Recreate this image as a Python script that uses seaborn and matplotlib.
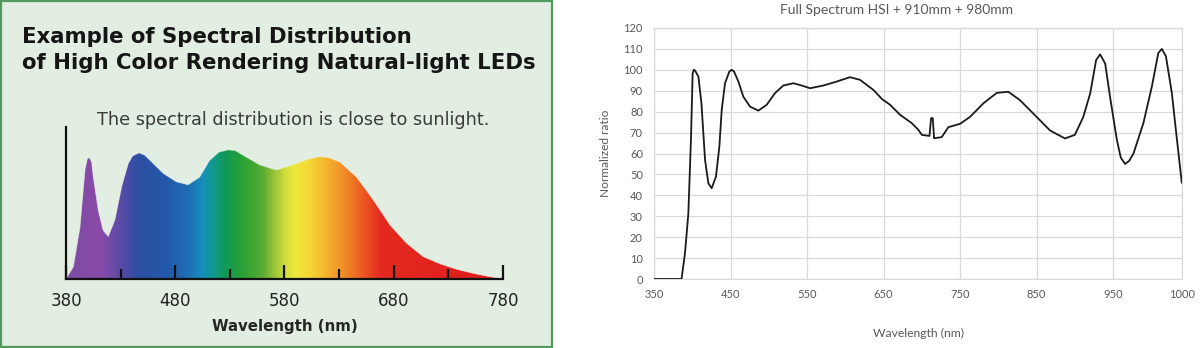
import numpy as np
import matplotlib
matplotlib.use("Agg")
import matplotlib.pyplot as plt
from matplotlib.patches import Rectangle
from matplotlib.colors import LinearSegmentedColormap, Normalize
import seaborn as sns
import pandas as pd

# ---------------- data ----------------
# Left: relative spectral distribution of high-CRI natural-light LED
led_wavelength = [380, 386.7, 392.8, 397.4, 399.5, 401.3, 403.5, 405, 409.6, 414, 418.7, 424.8, 431,
                  437, 441, 446.9, 452, 457, 469, 481, 491.7, 502.3, 511.4, 520, 528.2, 535, 542,
                  557.6, 572.7, 591, 602, 612.5, 620, 630.8, 646, 661.3, 676.6, 691.8, 707, 722.3,
                  737.6, 752.9, 768, 780]
led_intensity = [0.0, 0.08, 0.34, 0.72, 0.79, 0.80, 0.77, 0.67, 0.45, 0.32, 0.28, 0.39, 0.61,
                 0.76, 0.81, 0.83, 0.815, 0.78, 0.695, 0.64, 0.62, 0.67, 0.78, 0.835, 0.85, 0.845, 0.815,
                 0.75, 0.717, 0.76, 0.79, 0.805, 0.80, 0.77, 0.67, 0.52, 0.355, 0.235, 0.147, 0.10,
                 0.064, 0.037, 0.015, 0.0]
led_ticks_major = [380, 480, 580, 680, 780]
led_ticks_minor = [430, 530, 630, 730]

# Right: Full Spectrum HSI (Excel-style category axis positions)
hsi_position = [350, 386, 390.5, 394.9, 398.4, 400.5, 402, 403.6, 408, 412, 416.7, 421, 425.4, 431,
                435.4, 438.5, 442.8, 448.5, 451.5, 454.6, 460.3, 466.7, 475.5, 486.4, 497.3, 508.2, 519,
                532, 543, 553.9, 571.3, 588.8, 606.2, 619.3, 636.7, 648, 658.5, 671.6, 686.9,
                695.5, 700, 710, 712.1, 714.3, 716, 726, 734.7, 750, 763, 780.5, 798, 813, 828,
                850, 867.6, 887, 900, 911, 920, 927.8, 933, 939.6, 946, 954.8, 960, 965.7, 971, 976.6,
                989.6, 1000.6, 1009, 1013.6, 1019, 1026.7, 1033, 1039.7]
hsi_ratio = [0, 0, 12.3, 31.4, 68, 98.4, 100, 99.7, 96.8, 84, 57, 45.8, 43.4, 49,
             63.3, 80.9, 93.6, 99.2, 100, 99.2, 94.4, 87.2, 82.4, 80.5, 83.3, 88.9, 92.5,
             93.6, 92.5, 91.2, 92.5, 94.4, 96.5, 95.2, 90.4, 86.0, 83.3, 78.5, 74.5,
             71.3, 68.9, 68.4, 76.9, 76.9, 67.3, 67.8, 72.6, 74.2, 77.5, 84, 89, 89.5, 85.6,
             77.5, 71, 67.2, 68.9, 77.5, 88.7, 104.7, 107.4, 103, 87, 66.7, 58, 55, 56.5, 60,
             74.6, 92, 108, 110, 106.5, 89, 68, 46]
hsi_tick_pos = [350, 450, 550, 650, 750, 850, 950, 1040]
hsi_tick_labels = ["350", "450", "550", "650", "750", "850", "950", "1000"]
hsi_yticks = list(range(0, 121, 10))

# ---------------- style ----------------
sns.set_style("white")
plt.rcParams["font.family"] = ["DejaVu Sans"]

W, H = 1200, 348
fig = plt.figure(figsize=(W / 100, H / 100), dpi=100)

def fx(px):
    return px / W

def fy(py):
    return 1 - py / H

# Left panel background
fig.patches.append(Rectangle((fx(1), fy(347)), fx(551), 346 / H, transform=fig.transFigure,
                             facecolor="#e3eee2", edgecolor="#4f9a5c", linewidth=1.6, zorder=-5))

# ---------------- left chart ----------------
axL = fig.add_axes([fx(66), fy(279), fx(503 - 66), (279 - 127) / H])
axL.set_facecolor("none")
axL.set_axisbelow(False)
df_led = pd.DataFrame({"wavelength": led_wavelength, "intensity": led_intensity})
sns.lineplot(data=df_led, x="wavelength", y="intensity", ax=axL, color="#eef5ee", linewidth=0.6,
             alpha=0.6, zorder=2)

spec = LinearSegmentedColormap.from_list("spec", [
    (0.000, "#7b4ca4"), (0.075, "#8a4aa8"), (0.125, "#5a4aa6"), (0.160, "#2f4fa4"),
    (0.225, "#2458a8"), (0.275, "#1f6cb4"), (0.3125, "#1590bd"),
    (0.3375, "#109a8a"), (0.3625, "#0f9a5a"), (0.400, "#27a036"), (0.450, "#5aab34"),
    (0.475, "#95c238"), (0.500, "#cfdc3c"), (0.525, "#f0e83e"), (0.560, "#f5d634"),
    (0.600, "#f4b02c"), (0.640, "#f08a26"), (0.680, "#eb5a22"), (0.720, "#e42a20"),
    (1.000, "#df1a1c")])
poly = axL.fill_between(led_wavelength, led_intensity, 0, facecolor="none", edgecolor="none")
grad = np.linspace(380, 780, 800)[None, :]
im = axL.imshow(grad, extent=[380, 780, 0, 1], aspect="auto", cmap=spec,
                norm=Normalize(380, 780), origin="lower", zorder=1)
path = poly.get_paths()[0]
im.set_clip_path(path, transform=axL.transData)

axL.set_xlim(380, 780)
axL.set_ylim(0, 1)
for s in ["top", "right"]:
    axL.spines[s].set_visible(False)
for s in ["left", "bottom"]:
    axL.spines[s].set_linewidth(1.6)
    axL.spines[s].set_color("#111111")
    axL.spines[s].set_zorder(3)
axL.set_yticks([])
axL.set_xticks(led_ticks_major)
axL.set_xticks(led_ticks_minor, minor=True)
axL.set_xticklabels([str(t) for t in led_ticks_major])
axL.tick_params(axis="x", which="both", bottom=True, top=False)
axL.tick_params(axis="x", which="major", direction="in", length=10, width=1.6, color="#111111",
                labelsize=12, labelcolor="#222222", pad=9)
axL.tick_params(axis="x", which="minor", direction="in", length=7, width=1.6, color="#111111")
axL.set_xlabel("Wavelength (nm)", fontsize=10.8, fontweight="bold", color="#262626", labelpad=7)
axL.set_ylabel("")

fig.text(fx(22), fy(37), "Example of Spectral Distribution", fontsize=15.3, fontweight="bold",
         color="#151515", ha="left", va="center")
fig.text(fx(22), fy(63), "of High Color Rendering Natural-light LEDs", fontsize=15.3,
         fontweight="bold", color="#151515", ha="left", va="center")
fig.text(fx(293), fy(120), "The spectral distribution is close to sunlight.", fontsize=12.7,
         color="#3a3a3a", ha="center", va="center")

# ---------------- right chart ----------------
axR = fig.add_axes([fx(654), fy(279), fx(1182 - 654), (279 - 28) / H])
df_hsi = pd.DataFrame({"position": hsi_position, "ratio": hsi_ratio})
sns.lineplot(data=df_hsi, x="position", y="ratio", ax=axR, color="#1a1a1a", linewidth=1.3, zorder=3)
axR.set_xlim(350, 1040)
axR.set_ylim(0, 120)
axR.set_xticks(hsi_tick_pos)
axR.set_xticklabels(hsi_tick_labels)
axR.set_yticks(hsi_yticks)
axR.grid(True, color="#d9d9d9", linewidth=0.9)
for s in axR.spines.values():
    s.set_color("#d9d9d9")
    s.set_linewidth(0.9)
excel_font = ["Lato", "DejaVu Sans"]
axR.tick_params(axis="both", length=0, labelsize=8, labelcolor="#595959")
for lab in axR.get_xticklabels() + axR.get_yticklabels():
    lab.set_family(excel_font)
axR.tick_params(axis="x", pad=7)
axR.tick_params(axis="y", pad=8)
axR.set_xlabel("Wavelength (nm)", fontsize=8.7, color="#595959", family=excel_font, labelpad=20)
axR.set_ylabel("Normalized ratio", fontsize=8.6, color="#595959", family=excel_font, labelpad=9)
fig.text(fx(896), fy(10), "Full Spectrum HSI + 910mm + 980mm", fontsize=10, color="#595959",
         family=excel_font, ha="center", va="center")

fig.savefig("out.png", dpi=100)
